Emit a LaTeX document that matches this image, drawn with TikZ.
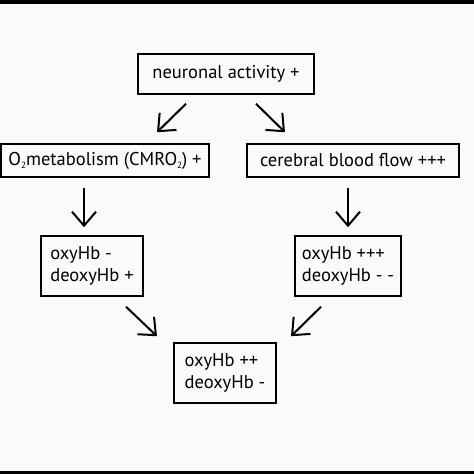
\documentclass[tikz,border=0pt]{standalone}
\usepackage{fontspec}
\setmainfont{PT Sans}
\usetikzlibrary{arrows.meta}
\definecolor{paper}{HTML}{FAFAFA}
\newcommand{\lowtwo}{\raisebox{-3pt}{\fontsize{9}{9}\selectfont 2}}
\begin{document}
\begin{tikzpicture}[x=1pt, y=1pt,
  box/.style={draw, line width = 1.5pt, inner sep=0pt, font=\fontsize{18.5}{22}\selectfont},
  onebox/.style={box, align=center},
  twobox/.style={box, align=left, minimum height=60pt},
  arr/.style={line width = 2pt, -{Straight Barb[length=14pt, width=24pt, line width=2pt]}}]
  \fill[paper] (0,0) rectangle (474,474);
  \fill[black] (0,470) rectangle (474,474);
  \fill[black] (0,0) rectangle (474,3);
  \useasboundingbox (0,0) rectangle (474,474);
  \node[onebox, minimum width=176pt, minimum height=40pt] (act) at (226,400) {neuronal activity +};
  \node[onebox, minimum width=208pt, minimum height=33pt] (met) at (105,313.5) {O\lowtwo metabolism (CMRO\lowtwo) +};
  \node[onebox, minimum width=212pt, minimum height=33pt] (cbf) at (353,313.5) {cerebral blood flow +++};
  \node[twobox, minimum width=102pt] (oxyL) at (92,208) {oxyHb -\\deoxyHb +};
  \node[twobox, minimum width=106pt] (oxyR) at (348,208) {oxyHb +++\\deoxyHb - -};
  \node[twobox, minimum width=102pt] (res) at (225,101) {oxyHb ++\\deoxyHb -};
  \draw[arr] ([shift={(-40pt,-9pt)}]act.south) -- ([shift={(52pt,11pt)}]met.north);
  \draw[arr] ([shift={(30pt,-9pt)}]act.south) -- ([shift={(-68pt,11pt)}]cbf.north);
  \draw[arr] ([shift={(-21pt,-10pt)}]met.south) -- ([shift={(-8pt,8pt)}]oxyL.north);
  \draw[arr] ([shift={(-5pt,-10pt)}]cbf.south) -- ([shift={(0pt,8pt)}]oxyR.north);
  \draw[arr] ([shift={(34pt,-10pt)}]oxyL.south) -- ([shift={(-68pt,6pt)}]res.north);
  \draw[arr] ([shift={(-27pt,-10pt)}]oxyR.south) -- ([shift={(66pt,6pt)}]res.north);
\end{tikzpicture}
\end{document}
